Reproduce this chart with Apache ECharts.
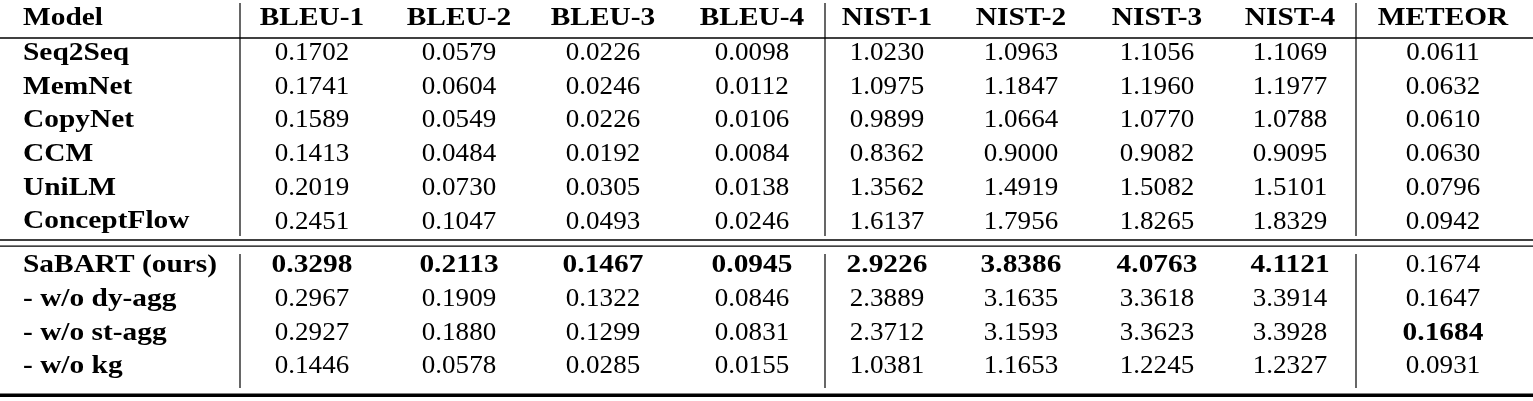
<!DOCTYPE html>
<html>
<head>
<meta charset="utf-8">
<script src="https://cdn.jsdelivr.net/npm/echarts@6/dist/echarts.min.js"></script>
<style>
html,body{margin:0;padding:0;background:#fff;}
#chart{width:1533px;height:401px;}
</style>
</head>
<body>
<div id="chart"></div>
<script>
// ---- data ----
const models = ["Seq2Seq", "MemNet", "CopyNet", "CCM", "UniLM", "ConceptFlow",
                "SaBART (ours)", "- w/o dy-agg", "- w/o st-agg", "- w/o kg"];
const headerFirst = "Model";
const metrics = ["BLEU-1", "BLEU-2", "BLEU-3", "BLEU-4", "NIST-1", "NIST-2", "NIST-3", "NIST-4", "METEOR"];
const bleu1  = [0.1702, 0.1741, 0.1589, 0.1413, 0.2019, 0.2451, 0.3298, 0.2967, 0.2927, 0.1446];
const bleu2  = [0.0579, 0.0604, 0.0549, 0.0484, 0.0730, 0.1047, 0.2113, 0.1909, 0.1880, 0.0578];
const bleu3  = [0.0226, 0.0246, 0.0226, 0.0192, 0.0305, 0.0493, 0.1467, 0.1322, 0.1299, 0.0285];
const bleu4  = [0.0098, 0.0112, 0.0106, 0.0084, 0.0138, 0.0246, 0.0945, 0.0846, 0.0831, 0.0155];
const nist1  = [1.0230, 1.0975, 0.9899, 0.8362, 1.3562, 1.6137, 2.9226, 2.3889, 2.3712, 1.0381];
const nist2  = [1.0963, 1.1847, 1.0664, 0.9000, 1.4919, 1.7956, 3.8386, 3.1635, 3.1593, 1.1653];
const nist3  = [1.1056, 1.1960, 1.0770, 0.9082, 1.5082, 1.8265, 4.0763, 3.3618, 3.3623, 1.2245];
const nist4  = [1.1069, 1.1977, 1.0788, 0.9095, 1.5101, 1.8329, 4.1121, 3.3914, 3.3928, 1.2327];
const meteor = [0.0611, 0.0632, 0.0610, 0.0630, 0.0796, 0.0942, 0.1674, 0.1647, 0.1684, 0.0931];

// ---- layout (axis units) ----
const columns = [bleu1, bleu2, bleu3, bleu4, nist1, nist2, nist3, nist4, meteor];
const modelX = 23;
const colX = [312, 459, 603, 752, 887, 1021, 1157, 1290, 1443];
const headerY = -1.1;
const rowY = [-0.06, 0.95, 1.96, 2.97, 3.98, 4.99, 6.3, 7.31, 8.32, 9.33];
const rules = [
  // x1, y1, x2, y2, width
  [0, -0.51, 1533, -0.51, 1.4],
  [0, 5.54, 1533, 5.54, 1.4],
  [0, 5.72, 1533, 5.72, 1.4],
  [0, 10.19, 1533, 10.19, 3.6],
  [240, -1.56, 240, 5.42, 1.2], [240, 5.96, 240, 9.97, 1.2],
  [825, -1.56, 825, 5.42, 1.2], [825, 5.96, 825, 9.97, 1.2],
  [1356, -1.56, 1356, 5.42, 1.2], [1356, 5.96, 1356, 9.97, 1.2]
];

// ---- build cells ----
const cells = [];
cells.push({ value: [modelX, headerY], text: headerFirst, bold: true, align: 'left' });
metrics.forEach((m, c) => cells.push({ value: [colX[c], headerY], text: m, bold: true, align: 'center' }));
models.forEach((name, r) => {
  cells.push({ value: [modelX, rowY[r]], text: name, bold: true, align: 'left' });
  columns.forEach((arr, c) => {
    const best = Math.max.apply(null, arr);
    cells.push({ value: [colX[c], rowY[r]], text: arr[r].toFixed(4), bold: arr[r] === best, align: 'center' });
  });
});

const chart = echarts.init(document.getElementById('chart'), null, { renderer: 'canvas' });
chart.setOption({
  animation: false,
  backgroundColor: '#fff',
  grid: { left: 0, right: 0, top: 0, bottom: 0 },
  xAxis: { type: 'value', min: 0, max: 1533, show: false },
  yAxis: { type: 'value', min: -1.65, max: 10.36, inverse: true, show: false },
  series: [
    {
      type: 'custom',
      name: 'rules',
      silent: true,
      data: rules,
      renderItem: function (params, api) {
        const p1 = api.coord([api.value(0), api.value(1)]);
        const p2 = api.coord([api.value(2), api.value(3)]);
        return {
          type: 'line',
          shape: { x1: p1[0], y1: p1[1], x2: p2[0], y2: p2[1] },
          style: { stroke: '#000', lineWidth: api.value(4) }
        };
      }
    },
    {
      type: 'custom',
      name: 'cells',
      silent: true,
      data: cells,
      renderItem: function (params, api) {
        const item = cells[params.dataIndex];
        const pt = api.coord([api.value(0), api.value(1)]);
        return {
          type: 'text',
          x: pt[0],
          y: pt[1],
          scaleX: item.bold ? 1.13 : 1.04,
          style: {
            text: item.text,
            fill: '#000',
            fontSize: 26,
            fontFamily: "'Liberation Serif', 'Times New Roman', Times, serif",
            fontWeight: item.bold ? 'bold' : 'normal',
            align: item.align,
            verticalAlign: 'middle'
          }
        };
      }
    }
  ]
});
</script>
</body>
</html>
